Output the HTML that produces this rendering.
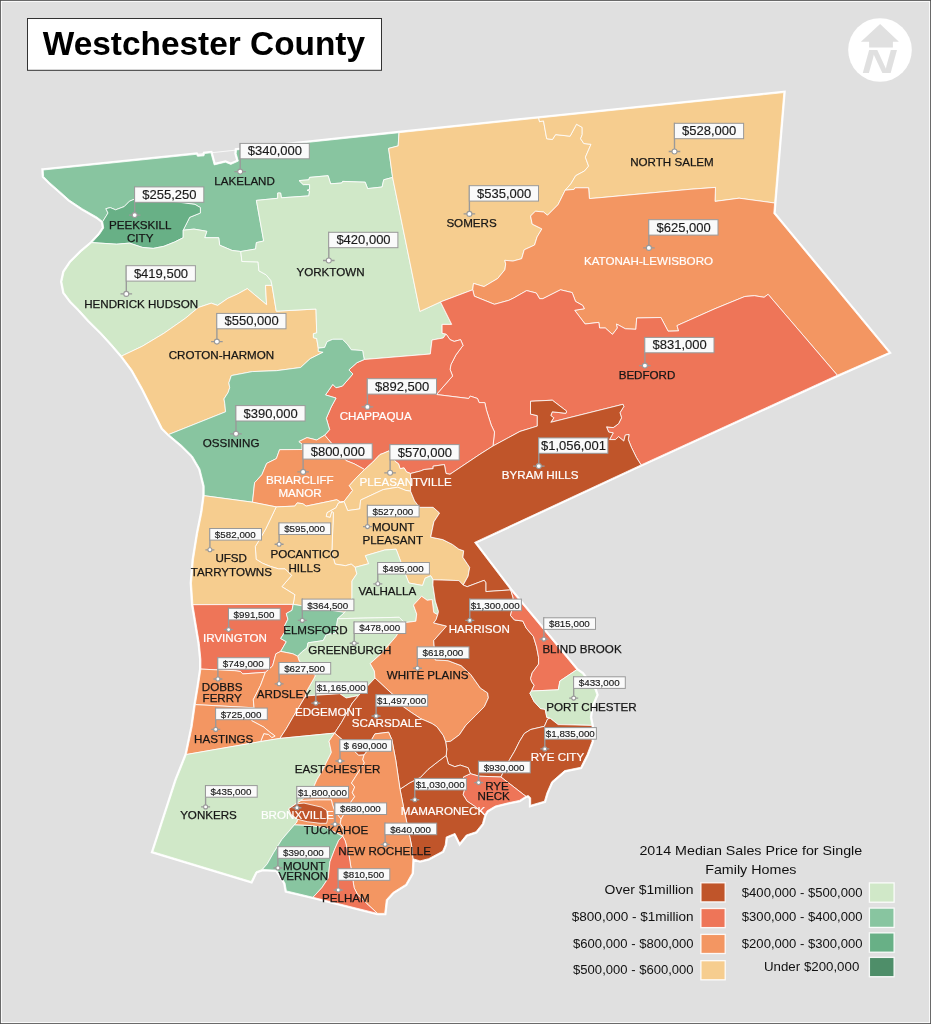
<!DOCTYPE html>
<html lang="en"><head><meta charset="utf-8"><title>Westchester County</title>
<style>html,body{margin:0;padding:0;background:#E0E0E0}body{width:931px;height:1024px;overflow:hidden}svg{display:block;will-change:transform}.nm{font-family:"Liberation Sans",Arial,sans-serif;font-size:11.6px;text-anchor:middle;fill:#161616;stroke:#161616;stroke-width:.25px}.nw{fill:#fff;stroke:#fff;stroke-width:.2px}.pl{font-family:"Liberation Sans",Arial,sans-serif;font-size:13px;text-anchor:middle;fill:#1a1a1a;stroke:#1a1a1a;stroke-width:.15px}.ps{font-family:"Liberation Sans",Arial,sans-serif;font-size:9.8px;text-anchor:middle;fill:#1a1a1a;stroke:#1a1a1a;stroke-width:.15px}.lg{font-family:"Liberation Sans",Arial,sans-serif;font-size:13.2px;fill:#111}.r{stroke:#fff;stroke-width:.8;stroke-linejoin:round}</style></head><body>
<svg width="931" height="1024" viewBox="0 0 931 1024">
<rect x="0" y="0" width="931" height="1024" fill="#E0E0E0"/>
<rect x="1.2" y="1.2" width="928.6" height="1021.6" fill="none" stroke="#fff" stroke-width="1.2"/>
<rect x="0.4" y="0.4" width="930.2" height="1023.2" fill="none" stroke="#4a4a4a" stroke-width=".8"/>
<rect x="27.5" y="18.5" width="354" height="51.8" fill="#fff" stroke="#333" stroke-width="1"/>
<text x="203.9" y="55.1" text-anchor="middle" font-family="Liberation Sans,Arial,sans-serif" font-weight="bold" font-size="33.4px" fill="#000">Westchester County</text>
<circle cx="880" cy="50" r="31.8" fill="#fff"/>
<polygon points="880.1,24.1 898.9,41.8 892.9,41.8 892.9,47.5 869.1,47.5 869.1,41.8 860.9,41.8" fill="#E0E0E0"/>
<text transform="translate(879,72.8) scale(1.56,1.09)" text-anchor="middle" font-family="Liberation Sans,Arial,sans-serif" font-weight="bold" font-style="italic" font-size="30.3px" fill="#E0E0E0">N</text>
<polygon points="43.2,170.0 196.4,154.3 197.5,156.3 204.0,155.8 204.5,153.5 210.9,152.8 214.2,164.9 225.4,162.2 230.8,164.4 238.3,161.1 236.2,153.6 236.5,149.9 399.0,132.7 538.7,118.0 783.8,92.6 774.6,203.0 773.8,213.5 888.9,352.6 837.3,375.2 641.1,464.9 474.5,542.4 510.7,589.9 576.8,669.7 582.4,673.7 587.3,680.2 595.2,690.0 596.8,694.8 591.9,706.1 590.3,717.4 592.0,725.4 592.0,741.6 587.1,754.4 580.7,767.3 564.6,770.6 551.7,781.8 546.8,793.1 544.4,801.2 530.7,805.2 530.7,797.9 528.3,795.5 525.9,796.3 519.4,800.4 508.2,802.8 495.3,806.0 487.2,810.8 484.8,814.9 482.4,823.7 475.9,831.8 466.3,835.0 459.8,843.1 455.0,833.4 446.2,837.0 445.2,845.0 442.6,851.2 428.6,858.7 420.0,860.9 412.9,858.7 412.1,873.2 405.7,884.4 392.8,892.5 386.3,899.7 384.7,913.4 377.5,913.4 313.0,897.3 286.4,890.9 285.0,883.1 276.9,870.2 262.4,869.4 256.0,871.8 251.2,881.5 152.9,851.7 176.2,780.0 186.4,754.5 192.1,727.1 195.3,704.6 198.5,685.2 200.9,669.1 200.9,659.4 199.3,643.3 195.3,619.2 192.9,604.7 191.5,583.1 193.4,560.0 197.7,533.3 202.0,511.9 204.2,495.7 204.2,486.1 199.9,468.9 192.4,456.0 181.6,445.3 168.7,434.5 162.3,428.1 153.7,410.9 143.0,389.4 132.2,370.1 121.7,356.0 112.3,345.1 101.6,333.3 88.7,320.4 79.0,309.7 70.4,301.1 64.0,292.5 61.9,281.7 64.0,272.1 70.4,262.4 81.2,251.7 91.9,242.6 99.4,234.5 103.7,228.0 102.7,221.6 97.3,217.3 82.3,208.7 69.4,200.1 58.6,190.4 50.0,182.9 43.6,176.5" fill="#E0E0E0" stroke="#fff" stroke-width="3.7" stroke-linejoin="miter" stroke-miterlimit="2.5"/>
<path d="M196 154.4L237 150" stroke="#fff" stroke-opacity=".8" stroke-width="1" fill="none"/>
<g class="r">
<polygon points="43.2,170.0 196.4,154.3 197.5,156.3 204.0,155.8 204.5,153.5 210.9,152.8 214.2,164.9 225.4,162.2 230.8,164.4 238.3,161.1 236.2,153.6 236.5,149.9 399.0,132.7 398.2,145.9 388.6,148.4 392.6,177.4 383.7,179.8 382.1,187.0 367.6,188.6 365.2,182.2 342.6,181.4 341.8,183.0 330.6,183.8 328.1,175.7 309.6,177.4 308.8,179.8 299.1,180.6 303.2,184.6 309.6,184.6 309.6,189.4 307.2,190.3 309.6,191.0 308.8,195.9 281.4,197.8 280.6,193.0 277.7,193.0 277.7,198.3 256.4,200.4 263.7,241.0 256.4,242.6 255.6,249.0 240.8,251.5 232.2,250.5 219.7,245.2 218.7,237.7 204.7,237.7 206.8,231.3 194.0,229.1 183.2,230.2 189.7,217.3 200.4,213.0 200.4,207.6 195.0,204.4 165.0,200.3 134.9,199.0 129.5,201.2 124.2,206.6 115.6,209.8 110.2,207.6 105.9,208.7 108.0,213.0 102.7,221.6 97.3,217.3 82.3,208.7 69.4,200.1 58.6,190.4 50.0,182.9 43.6,176.5" fill="#88C5A0"/>
<polygon points="102.7,221.6 108.0,213.0 105.9,208.7 110.2,207.6 115.6,209.8 124.2,206.6 129.5,201.2 134.9,199.0 165.0,200.3 195.0,204.4 200.4,207.6 200.4,213.0 189.7,217.3 183.2,230.2 183.2,237.7 174.6,242.0 163.9,246.3 153.2,248.4 142.4,247.4 129.5,243.1 116.6,244.2 91.9,242.6 99.4,234.5 103.7,228.0" fill="#68B086"/>
<polygon points="91.9,242.6 116.6,244.2 129.5,243.1 142.4,247.4 153.2,248.4 163.9,246.3 174.6,242.0 183.2,237.7 183.2,230.2 194.0,229.1 206.8,231.3 204.7,237.7 218.7,237.7 219.7,245.2 232.2,250.5 240.8,251.5 241.9,261.5 258.1,261.9 258.9,270.8 266.1,274.8 270.9,280.5 272.0,285.4 265.5,285.4 266.6,304.7 247.3,288.6 237.6,294.0 227.9,298.3 217.6,305.4 211.2,303.2 198.3,307.5 185.4,318.3 163.9,333.3 142.4,346.2 121.7,356.0 112.3,345.1 101.6,333.3 88.7,320.4 79.0,309.7 70.4,301.1 64.0,292.5 61.9,281.7 64.0,272.1 70.4,262.4 81.2,251.7" fill="#D0E8C8"/>
<polygon points="121.7,356.0 142.4,346.2 163.9,333.3 185.4,318.3 198.3,307.5 211.2,303.2 217.6,305.4 227.9,298.3 237.6,294.0 247.3,288.6 266.6,304.7 265.5,285.4 272.0,285.4 276.3,311.2 316.0,309.0 316.7,332.9 313.4,333.7 313.4,337.7 316.7,338.5 318.3,348.2 318.3,351.4 323.1,352.2 310.2,358.7 300.6,367.5 276.4,370.7 252.2,371.6 231.3,375.6 228.9,382.8 229.7,387.7 228.1,392.5 224.0,398.9 224.8,403.8 225.6,411.8 168.7,434.5 162.3,428.1 153.7,410.9 143.0,389.4 132.2,370.1" fill="#F6CD8F"/>
<polygon points="240.8,251.5 255.6,249.0 256.4,242.6 263.7,241.0 256.4,200.4 277.7,198.3 277.7,193.0 280.6,193.0 281.4,197.8 308.8,195.9 309.6,191.0 307.2,190.3 309.6,189.4 309.6,184.6 303.2,184.6 299.1,180.6 308.8,179.8 309.6,177.4 328.1,175.7 330.6,183.8 341.8,183.0 342.6,181.4 365.2,182.2 367.6,188.6 382.1,187.0 383.7,179.8 392.6,177.4 419.9,311.4 440.5,301.9 451.7,324.4 442.1,324.4 442.1,333.3 446.1,334.1 443.2,338.0 432.0,340.0 430.3,354.0 364.2,359.5 362.6,350.6 351.3,349.8 347.3,344.2 342.4,339.3 332.8,339.3 327.1,341.7 324.7,347.4 318.3,348.2 316.7,338.5 313.4,337.7 313.4,333.7 316.7,332.9 316.0,309.0 276.3,311.2 272.0,285.4 270.9,280.5 266.1,274.8 258.9,270.8 258.1,261.9 241.9,261.5" fill="#D0E8C8"/>
<polygon points="399.0,132.7 538.7,118.0 539.5,121.7 543.5,120.9 546.7,138.7 552.4,139.5 555.6,134.6 570.1,136.2 576.5,124.2 582.2,127.4 582.2,134.6 580.6,138.7 583.8,143.5 591.0,144.3 585.4,157.2 588.6,166.1 584.6,170.9 575.7,175.7 570.9,183.8 565.2,190.2 562.0,196.7 558.0,204.7 547.5,215.2 543.5,212.0 535.4,211.2 530.6,216.0 532.2,224.1 541.9,228.9 537.1,236.9 534.6,245.0 524.2,249.8 521.7,258.7 512.9,261.1 504.8,260.3 505.7,264.0 504.9,269.7 497.7,278.5 484.0,286.6 473.5,283.4 472.7,289.8 440.5,301.9 419.9,311.4 392.6,177.4 388.6,148.4 398.2,145.9" fill="#F6CD8F"/>
<polygon points="538.7,118.0 783.8,92.6 774.6,203.0 739.1,198.2 715.0,201.4 715.5,187.4 690.0,189.3 600.0,197.7 589.4,198.6 588.6,187.8 574.9,187.8 574.1,189.4 565.2,190.2 570.9,183.8 575.7,175.7 584.6,170.9 588.6,166.1 585.4,157.2 591.0,144.3 583.8,143.5 580.6,138.7 582.2,134.6 582.2,127.4 576.5,124.2 570.1,136.2 555.6,134.6 552.4,139.5 546.7,138.7 543.5,120.9 539.5,121.7" fill="#F6CD8F"/>
<polygon points="472.7,289.8 473.5,283.4 484.0,286.6 497.7,278.5 504.9,269.7 505.7,264.0 504.8,260.3 512.9,261.1 521.7,258.7 524.2,249.8 534.6,245.0 537.1,236.9 541.9,228.9 532.2,224.1 530.6,216.0 535.4,211.2 543.5,212.0 547.5,215.2 558.0,204.7 562.0,196.7 565.2,190.2 574.1,189.4 574.9,187.8 588.6,187.8 589.4,198.6 600.0,197.7 690.0,189.3 715.5,187.4 715.0,201.4 739.1,198.2 774.6,203.0 773.8,213.5 888.9,352.6 837.3,375.2 768.1,294.3 764.1,297.3 754.4,295.7 744.8,296.5 715.0,308.7 677.0,325.6 678.6,330.9 668.1,331.2 660.9,317.5 636.7,318.0 635.9,329.3 625.4,328.8 616.6,324.0 617.4,328.0 612.5,334.4 605.3,328.0 599.6,328.0 598.8,322.4 585.1,324.0 574.7,310.3 584.3,308.7 582.7,305.4 575.5,301.4 572.2,292.6 560.5,289.8 542.8,298.7 539.6,298.7 536.3,293.0 526.7,290.6 513.8,297.9 508.9,300.3 494.4,304.3 474.3,296.2" fill="#F39662"/>
<polygon points="440.5,301.9 472.7,289.8 474.3,296.2 494.4,304.3 508.9,300.3 513.8,297.9 526.7,290.6 536.3,293.0 539.6,298.7 542.8,298.7 560.5,289.8 572.2,292.6 575.5,301.4 582.7,305.4 584.3,308.7 574.7,310.3 585.1,324.0 598.8,322.4 599.6,328.0 605.3,328.0 612.5,334.4 617.4,328.0 616.6,324.0 625.4,328.8 635.9,329.3 636.7,318.0 660.9,317.5 668.1,331.2 678.6,330.9 677.0,325.6 715.0,308.7 744.8,296.5 754.4,295.7 764.1,297.3 768.1,294.3 837.3,375.2 641.1,464.9 636.5,457.7 631.3,447.1 628.3,439.6 629.0,434.4 625.3,435.1 623.8,441.1 618.5,436.6 615.5,439.6 609.5,439.6 613.2,432.9 608.7,432.1 606.5,426.8 613.2,427.6 618.5,423.8 621.5,417.8 620.0,412.6 623.8,406.5 623.0,404.3 550.8,422.3 553.8,417.8 550.8,415.6 552.3,411.8 565.9,413.3 566.6,411.1 552.3,400.2 530.5,401.3 530.5,414.1 537.3,415.6 537.3,426.1 520.0,431.4 493.0,446.0 494.5,432.0 491.2,425.0 486.4,409.8 484.8,402.6 479.1,402.6 477.5,398.5 470.3,396.1 468.7,398.5 436.4,394.5 452.6,376.0 450.1,369.5 450.9,364.7 455.8,355.1 463.0,345.4 460.6,339.7 454.2,341.4 450.1,339.7 446.1,334.1 442.1,333.3 442.1,324.4 451.7,324.4" fill="#EE7558"/>
<polygon points="364.2,359.5 430.3,354.0 432.0,340.0 443.2,338.0 446.1,334.1 450.1,339.7 454.2,341.4 460.6,339.7 463.0,345.4 455.8,355.1 450.9,364.7 450.1,369.5 452.6,376.0 436.4,394.5 468.7,398.5 470.3,396.1 477.5,398.5 479.1,402.6 484.8,402.6 486.4,409.8 491.2,425.0 494.5,432.0 493.0,446.0 480.0,454.2 450.0,474.3 446.0,473.5 444.4,464.6 433.1,466.2 433.1,468.7 424.2,469.5 420.2,471.1 410.6,473.5 406.5,471.9 404.1,467.9 400.1,468.7 398.5,463.8 395.2,461.4 388.8,450.9 383.2,453.4 380.0,454.5 372.7,462.2 364.6,469.5 354.2,463.8 346.1,460.6 324.7,435.2 329.6,429.6 326.3,418.3 331.2,407.0 336.0,398.1 325.5,394.9 332.8,384.4 336.0,387.7 342.4,386.1 352.9,374.0 348.9,369.9 356.9,362.7" fill="#EE7558"/>
<polygon points="168.7,434.5 225.6,411.8 224.8,403.8 224.0,398.9 228.1,392.5 229.7,387.7 228.9,382.8 231.3,375.6 252.2,371.6 276.4,370.7 300.6,367.5 310.2,358.7 323.1,352.2 318.3,351.4 318.3,348.2 324.7,347.4 327.1,341.7 332.8,339.3 342.4,339.3 347.3,344.2 351.3,349.8 362.6,350.6 364.2,359.5 356.9,362.7 348.9,369.9 352.9,374.0 342.4,386.1 336.0,387.7 332.8,384.4 325.5,394.9 336.0,398.1 331.2,407.0 326.3,418.3 329.6,429.6 324.7,435.2 316.7,440.0 307.0,437.6 298.9,441.6 302.2,444.0 302.2,449.5 279.6,449.7 276.4,458.6 266.7,463.4 261.9,474.7 254.6,482.7 252.5,502.2 204.2,495.7 204.2,486.1 199.9,468.9 192.4,456.0 181.6,445.3" fill="#88C5A0"/>
<polygon points="324.7,435.2 346.1,460.6 354.2,463.8 364.6,469.5 355.8,478.3 349.3,485.6 352.6,490.4 344.0,501.5 340.7,502.1 336.7,499.7 329.4,501.3 306.1,506.1 302.8,503.7 297.2,502.9 294.8,506.1 276.2,506.9 252.5,502.2 254.6,482.7 261.9,474.7 266.7,463.4 276.4,458.6 279.6,449.7 302.2,449.5 302.2,444.0 298.9,441.6 307.0,437.6 316.7,440.0" fill="#F39662"/>
<polygon points="364.6,469.5 372.7,462.2 380.0,454.5 383.2,453.4 388.8,450.9 395.2,461.4 398.5,463.8 400.1,468.7 404.1,467.9 406.5,471.9 410.6,473.5 410.6,491.2 405.7,490.4 397.7,487.2 383.2,489.6 360.6,500.1 359.8,508.9 347.7,510.6 344.0,501.5 352.6,490.4 349.3,485.6 355.8,478.3" fill="#F6CD8F"/>
<polygon points="344.0,501.5 347.7,510.6 359.8,508.9 360.6,500.1 383.2,489.6 397.7,487.2 405.7,490.4 410.6,491.2 414.6,500.9 419.4,507.3 433.1,507.3 439.6,513.0 433.9,521.8 430.7,537.1 442.8,539.6 452.4,544.4 458.9,549.2 463.7,550.8 462.9,557.3 469.7,567.4 468.1,576.2 463.2,585.1 458.9,580.6 433.1,579.8 430.7,575.8 425.1,578.2 422.6,585.5 408.9,583.0 405.7,575.0 396.1,549.2 384.8,550.0 365.4,555.7 368.7,563.7 355.2,567.3 351.2,564.1 345.5,565.7 335.1,564.1 331.8,552.8 333.4,512.6 331.8,511.7 330.2,517.4 326.2,516.6 327.0,512.6 335.9,507.7 338.3,502.9" fill="#F6CD8F"/>
<polygon points="410.6,473.5 420.2,471.1 424.2,469.5 433.1,468.7 433.1,466.2 444.4,464.6 446.0,473.5 450.0,474.3 480.0,454.2 493.0,446.0 520.0,431.4 537.3,426.1 537.3,415.6 530.5,414.1 530.5,401.3 552.3,400.2 566.6,411.1 565.9,413.3 552.3,411.8 550.8,415.6 553.8,417.8 550.8,422.3 623.0,404.3 623.8,406.5 620.0,412.6 621.5,417.8 618.5,423.8 613.2,427.6 606.5,426.8 608.7,432.1 613.2,432.9 609.5,439.6 615.5,439.6 618.5,436.6 623.8,441.1 625.3,435.1 629.0,434.4 628.3,439.6 631.3,447.1 636.5,457.7 641.1,464.9 474.5,542.4 510.7,589.9 485.8,591.6 485.8,582.7 484.2,580.3 467.2,586.7 463.2,585.1 468.1,576.2 469.7,567.4 462.9,557.3 463.7,550.8 458.9,549.2 452.4,544.4 442.8,539.6 430.7,537.1 433.9,521.8 439.6,513.0 433.1,507.3 419.4,507.3 414.6,500.9 410.6,491.2" fill="#C0552A"/>
<polygon points="276.2,506.9 294.8,506.1 297.2,502.9 302.8,503.7 306.1,506.1 329.4,501.3 336.7,499.7 340.7,502.1 344.0,501.5 338.3,502.9 335.9,507.7 327.0,512.6 326.2,516.6 330.2,517.4 331.8,511.7 333.4,512.6 331.8,552.8 335.1,564.1 345.5,565.7 351.2,564.1 355.2,567.3 356.8,573.8 352.0,581.0 352.0,597.9 344.7,612.4 293.2,604.4 294.8,594.7 281.9,586.7 291.6,575.4 285.1,568.9 278.7,568.9 270.6,566.5 262.6,563.3 256.1,559.3 255.3,546.4 259.3,539.9 265.8,528.7" fill="#F6CD8F"/>
<polygon points="204.2,495.7 252.5,502.2 276.2,506.9 265.8,528.7 259.3,539.9 255.3,546.4 256.1,559.3 262.6,563.3 270.6,566.5 278.7,568.9 285.1,568.9 291.6,575.4 281.9,586.7 294.8,594.7 293.2,604.4 192.9,604.7 191.5,583.1 193.4,560.0 197.7,533.3 202.0,511.9" fill="#F6CD8F"/>
<polygon points="192.9,604.7 293.2,604.4 292.0,610.3 286.3,613.5 287.9,619.2 284.7,625.6 286.3,629.6 280.7,638.5 286.3,641.7 280.7,651.4 275.9,653.8 272.6,665.9 265.4,672.3 242.8,673.9 240.4,671.5 234.8,670.7 200.9,669.1 200.9,659.4 199.3,643.3 195.3,619.2" fill="#EE7558"/>
<polygon points="293.2,604.4 344.7,612.4 337.7,618.7 335.5,633.2 326.4,634.5 323.2,640.6 308.0,642.8 307.0,648.0 302.4,651.4 297.6,656.2 292.8,653.8 280.7,651.4 286.3,641.7 280.7,638.5 286.3,629.6 284.7,625.6 287.9,619.2 286.3,613.5 292.0,610.3" fill="#88C5A0"/>
<polygon points="355.2,567.3 368.7,563.7 365.4,555.7 384.8,550.0 396.1,549.2 405.7,575.0 408.9,583.0 422.6,585.5 425.1,578.2 430.7,575.8 433.1,579.8 432.9,585.0 435.3,601.1 438.5,611.6 437.7,614.8 433.7,612.4 432.1,599.5 427.2,600.3 421.6,596.3 413.5,605.1 416.7,614.0 415.9,621.2 404.5,622.7 399.2,617.3 337.7,618.7 344.7,612.4 352.0,597.9 352.0,581.0 356.8,573.8" fill="#D0E8C8"/>
<polygon points="337.7,618.7 399.2,617.3 404.5,622.7 395.9,636.7 380.9,653.9 370.2,663.5 374.4,671.0 375.0,678.0 358.7,695.4 356.9,695.9 346.2,698.0 339.7,693.7 308.9,695.7 305.0,697.0 307.3,690.0 313.7,678.8 315.3,675.6 299.2,661.1 297.6,656.2 302.4,651.4 307.0,648.0 308.0,642.8 323.2,640.6 326.4,634.5 335.5,633.2" fill="#D0E8C8"/>
<polygon points="404.5,622.7 415.9,621.2 416.7,614.0 413.5,605.1 421.6,596.3 427.2,600.3 432.1,599.5 433.7,612.4 437.7,614.8 436.1,619.6 433.7,622.9 446.6,626.1 433.7,640.6 435.3,659.9 448.2,660.7 461.1,665.6 470.7,674.4 480.4,688.1 487.6,692.9 488.4,697.8 484.4,706.6 475.6,715.5 465.9,725.2 459.4,734.8 450.6,741.3 445.6,741.8 443.3,735.6 436.9,726.8 432.1,723.6 420.8,718.7 411.1,712.3 403.1,706.6 397.4,698.7 385.6,687.9 375.0,678.0 374.4,671.0 370.2,663.5 380.9,653.9 395.9,636.7" fill="#F39662"/>
<polygon points="433.1,579.8 458.9,580.6 463.2,585.1 467.2,586.7 484.2,580.3 485.8,582.7 485.8,591.6 510.7,589.9 513.2,598.0 511.6,610.9 510.5,615.5 514.5,620.0 522.8,621.0 526.2,628.0 533.4,636.5 536.6,647.0 538.6,657.5 538.6,664.1 532.2,672.8 530.6,678.5 531.7,681.8 534.2,685.3 531.5,691.0 529.9,693.2 533.9,701.3 540.4,708.5 545.2,709.3 546.8,717.4 550.1,718.2 547.6,719.0 544.4,726.3 530.7,729.5 524.3,733.5 519.4,741.6 514.6,751.2 509.8,759.3 500.9,777.0 479.2,776.2 470.4,773.7 468.2,767.8 460.2,765.1 454.8,766.7 448.4,764.0 446.2,755.4 446.8,749.0 445.6,741.8 450.6,741.3 459.4,734.8 465.9,725.2 475.6,715.5 484.4,706.6 488.4,697.8 487.6,692.9 480.4,688.1 470.7,674.4 461.1,665.6 448.2,660.7 435.3,659.9 433.7,640.6 446.6,626.1 433.7,622.9 436.1,619.6 437.7,614.8 438.5,611.6 435.3,601.1 432.9,585.0" fill="#C0552A"/>
<polygon points="510.7,589.9 576.8,669.7 559.9,681.0 558.3,689.8 531.5,691.0 534.2,685.3 531.7,681.8 530.6,678.5 532.2,672.8 538.6,664.1 538.6,657.5 536.6,647.0 533.4,636.5 526.2,628.0 522.8,621.0 514.5,620.0 510.5,615.5 511.6,610.9 513.2,598.0" fill="#EE7558"/>
<polygon points="576.8,669.7 582.4,673.7 587.3,680.2 595.2,690.0 596.8,694.8 591.9,706.1 590.3,717.4 592.0,725.4 558.1,724.6 550.1,718.2 546.8,717.4 545.2,709.3 540.4,708.5 533.9,701.3 529.9,693.2 531.5,691.0 558.3,689.8 559.9,681.0" fill="#D0E8C8"/>
<polygon points="550.1,718.2 558.1,724.6 592.0,725.4 592.0,741.6 587.1,754.4 580.7,767.3 564.6,770.6 551.7,781.8 546.8,793.1 544.4,801.2 530.7,805.2 530.7,797.9 528.3,795.5 525.9,796.3 500.9,777.0 509.8,759.3 514.6,751.2 519.4,741.6 524.3,733.5 530.7,729.5 544.4,726.3 547.6,719.0" fill="#C0552A"/>
<polygon points="500.9,777.0 525.9,796.3 519.4,800.4 508.2,802.8 495.3,806.0 487.2,810.8 484.8,814.9 474.2,805.9 467.1,801.2 463.1,794.7 465.5,785.1 463.4,776.9 470.4,773.7 479.2,776.2" fill="#EE7558"/>
<polygon points="400.0,789.2 409.7,782.8 420.4,777.4 428.0,769.4 437.6,761.9 446.2,755.4 448.4,764.0 454.8,766.7 460.2,765.1 468.2,767.8 470.4,773.7 463.4,776.9 465.5,785.1 463.1,794.7 467.1,801.2 474.2,805.9 484.8,814.9 482.4,823.7 475.9,831.8 466.3,835.0 459.8,843.1 455.0,833.4 446.2,837.0 445.2,845.0 442.6,851.2 428.6,858.7 420.0,860.9 412.9,858.7 411.9,847.4 408.7,831.3 403.9,808.8" fill="#C0552A"/>
<polygon points="200.9,669.1 234.8,670.7 240.4,671.5 242.8,673.9 265.4,672.3 260.6,685.2 253.3,699.7 254.1,707.8 195.3,704.6 198.5,685.2" fill="#F39662"/>
<polygon points="280.7,651.4 292.8,653.8 297.6,656.2 299.2,661.1 315.3,675.6 313.7,678.8 307.3,690.0 305.0,697.0 292.8,717.4 286.3,728.7 279.9,738.4 260.6,741.6 263.8,733.6 268.6,734.4 271.8,737.6 275.1,736.0 269.4,731.9 263.8,727.1 251.7,720.7 254.1,707.8 253.3,699.7 260.6,685.2 265.4,672.3 272.6,665.9 275.9,653.8" fill="#F39662"/>
<polygon points="195.3,704.6 254.1,707.8 251.7,720.7 263.8,727.1 269.4,731.9 275.1,736.0 271.8,737.6 268.6,734.4 263.8,733.6 260.6,741.6 186.4,754.5 192.1,727.1" fill="#F39662"/>
<polygon points="305.0,697.0 308.9,695.7 339.7,693.7 346.2,698.0 356.9,695.9 358.7,695.4 352.3,703.0 341.6,722.3 334.6,733.1 279.9,738.4 286.3,728.7 292.8,717.4" fill="#C0552A"/>
<polygon points="375.0,678.0 385.6,687.9 397.4,698.7 403.1,706.6 411.1,712.3 420.8,718.7 432.1,723.6 436.9,726.8 443.3,735.6 445.6,741.8 446.8,749.0 446.2,755.4 437.6,761.9 428.0,769.4 420.4,777.4 409.7,782.8 400.0,789.2 395.8,760.4 391.8,739.5 388.6,732.2 374.9,733.9 371.7,739.5 368.0,750.0 364.0,755.0 358.5,755.3 355.5,752.2 345.0,742.0 334.6,733.1 341.6,722.3 352.3,703.0 358.7,695.4" fill="#C0552A"/>
<polygon points="186.4,754.5 260.6,741.6 279.9,738.4 334.6,733.1 329.0,741.1 331.4,752.4 326.6,762.1 321.7,771.7 316.9,779.8 313.7,787.0 306.0,796.0 301.0,800.5 295.9,803.9 288.7,808.8 291.1,814.4 297.6,819.3 297.0,822.0 294.3,824.9 290.0,830.0 281.8,839.6 273.7,852.5 267.3,863.8 262.4,869.4 256.0,871.8 251.2,881.5 152.9,851.7 176.2,780.0" fill="#D0E8C8"/>
<polygon points="334.6,733.1 345.0,742.0 355.5,752.2 358.5,755.3 364.0,755.0 362.8,759.6 364.4,762.9 355.6,776.6 351.5,783.0 354.7,787.0 352.3,792.7 354.7,796.7 350.7,802.3 345.1,812.0 341.1,819.2 337.0,814.0 333.8,808.8 332.2,803.9 331.4,799.9 315.3,799.9 301.0,800.5 306.0,796.0 313.7,787.0 316.9,779.8 321.7,771.7 326.6,762.1 331.4,752.4 329.0,741.1" fill="#F39662"/>
<polygon points="301.0,800.5 315.3,799.9 331.4,799.9 332.2,803.9 333.8,808.8 337.0,814.0 341.1,819.2 340.2,823.3 344.3,829.7 342.7,836.2 339.4,834.6 326.6,828.1 310.0,825.5 294.3,824.9 297.0,822.0 297.6,819.3 291.1,814.4 288.7,808.8 295.9,803.9" fill="#F39662"/>
<polygon points="295.9,803.9 304.0,803.1 321.7,807.2 326.6,810.4 328.2,816.8 326.6,823.3 320.1,823.3 307.2,821.7 297.6,819.3 291.1,814.4 288.7,808.8" fill="#C0552A"/>
<polygon points="364.0,755.0 368.0,750.0 371.7,739.5 374.9,733.9 388.6,732.2 391.8,739.5 395.8,760.4 400.0,789.2 403.9,808.8 408.7,831.3 411.9,847.4 412.9,858.7 412.1,873.2 405.7,884.4 392.8,892.5 386.3,899.7 384.7,913.4 377.5,913.4 367.0,903.8 357.3,894.1 354.1,887.7 349.3,857.1 345.2,840.9 342.7,836.2 344.3,829.7 340.2,823.3 341.1,819.2 345.1,812.0 350.7,802.3 354.7,796.7 352.3,792.7 354.7,787.0 351.5,783.0 355.6,776.6 364.4,762.9 362.8,759.6" fill="#F39662"/>
<polygon points="294.3,824.9 310.0,825.5 326.6,828.1 339.4,834.6 342.7,836.2 338.8,840.1 334.8,849.0 329.9,861.9 328.3,878.0 321.9,887.7 313.0,897.3 286.4,890.9 285.0,883.1 276.9,870.2 262.4,869.4 267.3,863.8 273.7,852.5 281.8,839.6 290.0,830.0" fill="#88C5A0"/>
<polygon points="342.7,836.2 345.2,840.9 349.3,857.1 354.1,887.7 357.3,894.1 367.0,903.8 377.5,913.4 313.0,897.3 321.9,887.7 328.3,878.0 329.9,861.9 334.8,849.0 338.8,840.1" fill="#EE7558"/>
</g>
<g>
<text class="nm" x="244.6" y="184.8">LAKELAND</text>
<text class="nm" x="140.2" y="228.9">PEEKSKILL</text>
<text class="nm" x="140.2" y="242.4">CITY</text>
<text class="nm" x="141.2" y="307.9">HENDRICK HUDSON</text>
<text class="nm" x="221.4" y="358.8">CROTON-HARMON</text>
<text class="nm" x="231.1" y="447.4">OSSINING</text>
<text class="nm" x="330.5" y="275.7">YORKTOWN</text>
<text class="nm" x="471.5" y="227.2">SOMERS</text>
<text class="nm" x="672.0" y="165.6">NORTH SALEM</text>
<text class="nm nw" x="648.5" y="265.1">KATONAH-LEWISBORO</text>
<text class="nm" x="647.0" y="378.7">BEDFORD</text>
<text class="nm nw" x="375.7" y="419.9">CHAPPAQUA</text>
<text class="nm nw" x="299.8" y="483.5">BRIARCLIFF</text>
<text class="nm nw" x="300.0" y="496.8">MANOR</text>
<text class="nm nw" x="405.6" y="485.6">PLEASANTVILLE</text>
<text class="nm" x="393.2" y="531.2">MOUNT</text>
<text class="nm" x="392.7" y="544.1">PLEASANT</text>
<text class="nm nw" x="540.2" y="479.2">BYRAM HILLS</text>
<text class="nm" x="231.2" y="562.1">UFSD</text>
<text class="nm" x="231.4" y="575.6">TARRYTOWNS</text>
<text class="nm" x="304.9" y="558.4">POCANTICO</text>
<text class="nm" x="304.6" y="571.7">HILLS</text>
<text class="nm" x="387.3" y="595.4">VALHALLA</text>
<text class="nm" x="315.4" y="633.6">ELMSFORD</text>
<text class="nm" x="349.8" y="653.7">GREENBURGH</text>
<text class="nm nw" x="235.0" y="641.5">IRVINGTON</text>
<text class="nm" x="222.1" y="690.5">DOBBS</text>
<text class="nm" x="222.1" y="702.3">FERRY</text>
<text class="nm" x="283.9" y="698.4">ARDSLEY</text>
<text class="nm" x="223.7" y="742.7">HASTINGS</text>
<text class="nm nw" x="328.5" y="715.6">EDGEMONT</text>
<text class="nm nw" x="386.9" y="726.6">SCARSDALE</text>
<text class="nm" x="427.7" y="679.3">WHITE PLAINS</text>
<text class="nm nw" x="479.3" y="632.9">HARRISON</text>
<text class="nm" x="582.0" y="653.1">BLIND BROOK</text>
<text class="nm" x="591.5" y="711.0">PORT CHESTER</text>
<text class="nm nw" x="557.5" y="760.9">RYE CITY</text>
<text class="nm" x="497.0" y="790.0">RYE</text>
<text class="nm" x="493.7" y="800.1">NECK</text>
<text class="nm nw" x="443.0" y="815.1">MAMARONECK</text>
<text class="nm" x="337.5" y="772.6">EASTCHESTER</text>
<text class="nm" x="208.5" y="818.7">YONKERS</text>
<text class="nm nw" x="297.3" y="819.0">BRONXVILLE</text>
<text class="nm" x="336.0" y="834.0">TUCKAHOE</text>
<text class="nm" x="384.6" y="855.3">NEW ROCHELLE</text>
<text class="nm" x="304.2" y="870.3">MOUNT</text>
<text class="nm" x="303.4" y="880.0">VERNON</text>
<text class="nm" x="345.9" y="902.1">PELHAM</text>
</g>
<g>
<path d="M240.2 142.9V171.6M234.4 171.6H246.0" stroke="#999" stroke-width="1.35" fill="none"/>
<circle cx="240.2" cy="171.6" r="2.5" fill="#fff" stroke="#999" stroke-width="1.1"/>
<rect x="240.1" y="143.4" width="69.2" height="15.4" fill="#fafafa" stroke="#999" stroke-width="1"/>
<text class="pl" x="274.9" y="155.4">$340,000</text>
<path d="M134.7 186.4V215.1M128.9 215.1H140.5" stroke="#999" stroke-width="1.35" fill="none"/>
<circle cx="134.7" cy="215.1" r="2.5" fill="#fff" stroke="#999" stroke-width="1.1"/>
<rect x="134.6" y="186.9" width="69.2" height="15.4" fill="#fafafa" stroke="#999" stroke-width="1"/>
<text class="pl" x="169.4" y="198.9">$255,250</text>
<path d="M126.3 265.2V293.9M120.5 293.9H132.1" stroke="#999" stroke-width="1.35" fill="none"/>
<circle cx="126.3" cy="293.9" r="2.5" fill="#fff" stroke="#999" stroke-width="1.1"/>
<rect x="126.2" y="265.7" width="69.2" height="15.4" fill="#fafafa" stroke="#999" stroke-width="1"/>
<text class="pl" x="161.0" y="277.7">$419,500</text>
<path d="M216.9 312.9V341.6M211.1 341.6H222.7" stroke="#999" stroke-width="1.35" fill="none"/>
<circle cx="216.9" cy="341.6" r="2.5" fill="#fff" stroke="#999" stroke-width="1.1"/>
<rect x="216.8" y="313.4" width="69.2" height="15.4" fill="#fafafa" stroke="#999" stroke-width="1"/>
<text class="pl" x="251.6" y="325.4">$550,000</text>
<path d="M236.0 405.1V433.8M230.2 433.8H241.8" stroke="#999" stroke-width="1.35" fill="none"/>
<circle cx="236.0" cy="433.8" r="2.5" fill="#fff" stroke="#999" stroke-width="1.1"/>
<rect x="235.9" y="405.6" width="69.2" height="15.4" fill="#fafafa" stroke="#999" stroke-width="1"/>
<text class="pl" x="270.7" y="417.6">$390,000</text>
<path d="M328.8 231.8V260.5M323.0 260.5H334.6" stroke="#999" stroke-width="1.35" fill="none"/>
<circle cx="328.8" cy="260.5" r="2.5" fill="#fff" stroke="#999" stroke-width="1.1"/>
<rect x="328.7" y="232.3" width="69.2" height="15.4" fill="#fafafa" stroke="#999" stroke-width="1"/>
<text class="pl" x="363.5" y="244.3">$420,000</text>
<path d="M469.4 185.2V213.9M463.6 213.9H475.2" stroke="#999" stroke-width="1.35" fill="none"/>
<circle cx="469.4" cy="213.9" r="2.5" fill="#fff" stroke="#999" stroke-width="1.1"/>
<rect x="469.3" y="185.7" width="69.2" height="15.4" fill="#fafafa" stroke="#999" stroke-width="1"/>
<text class="pl" x="504.1" y="197.7">$535,000</text>
<path d="M367.4 378.2V406.9M361.6 406.9H373.2" stroke="#999" stroke-width="1.35" fill="none"/>
<circle cx="367.4" cy="406.9" r="2.5" fill="#fff" stroke="#999" stroke-width="1.1"/>
<rect x="367.3" y="378.7" width="69.2" height="15.4" fill="#fafafa" stroke="#999" stroke-width="1"/>
<text class="pl" x="402.1" y="390.7">$892,500</text>
<path d="M674.5 122.8V151.5M668.7 151.5H680.3" stroke="#999" stroke-width="1.35" fill="none"/>
<circle cx="674.5" cy="151.5" r="2.5" fill="#fff" stroke="#999" stroke-width="1.1"/>
<rect x="674.4" y="123.3" width="69.2" height="15.4" fill="#fafafa" stroke="#999" stroke-width="1"/>
<text class="pl" x="709.2" y="135.3">$528,000</text>
<path d="M648.9 219.2V247.9M643.1 247.9H654.7" stroke="#999" stroke-width="1.35" fill="none"/>
<circle cx="648.9" cy="247.9" r="2.5" fill="#fff" stroke="#999" stroke-width="1.1"/>
<rect x="648.8" y="219.7" width="69.2" height="15.4" fill="#fafafa" stroke="#999" stroke-width="1"/>
<text class="pl" x="683.6" y="231.7">$625,000</text>
<path d="M644.9 336.9V365.6M639.1 365.6H650.7" stroke="#999" stroke-width="1.35" fill="none"/>
<circle cx="644.9" cy="365.6" r="2.5" fill="#fff" stroke="#999" stroke-width="1.1"/>
<rect x="644.8" y="337.4" width="69.2" height="15.4" fill="#fafafa" stroke="#999" stroke-width="1"/>
<text class="pl" x="679.6" y="349.4">$831,000</text>
<path d="M303.1 443.2V471.9M297.3 471.9H308.9" stroke="#999" stroke-width="1.35" fill="none"/>
<circle cx="303.1" cy="471.9" r="2.5" fill="#fff" stroke="#999" stroke-width="1.1"/>
<rect x="303.0" y="443.7" width="69.2" height="15.4" fill="#fafafa" stroke="#999" stroke-width="1"/>
<text class="pl" x="337.8" y="455.7">$800,000</text>
<path d="M390.1 444.1V472.8M384.3 472.8H395.9" stroke="#999" stroke-width="1.35" fill="none"/>
<circle cx="390.1" cy="472.8" r="2.5" fill="#fff" stroke="#999" stroke-width="1.1"/>
<rect x="390.0" y="444.6" width="69.2" height="15.4" fill="#fafafa" stroke="#999" stroke-width="1"/>
<text class="pl" x="424.8" y="456.6">$570,000</text>
<path d="M538.8 437.4V466.1M533.0 466.1H544.6" stroke="#999" stroke-width="1.35" fill="none"/>
<circle cx="538.8" cy="466.1" r="2.5" fill="#fff" stroke="#999" stroke-width="1.1"/>
<rect x="538.7" y="437.9" width="69.2" height="15.4" fill="#fafafa" stroke="#999" stroke-width="1"/>
<text class="pl" x="573.5" y="449.9">$1,056,001</text>
<path d="M367.5 504.8V526.6M363.0 526.6H372.0" stroke="#999" stroke-width="1.35" fill="none"/>
<circle cx="367.5" cy="526.6" r="2.0" fill="#fff" stroke="#999" stroke-width="1.1"/>
<rect x="367.4" y="505.3" width="51.7" height="11.6" fill="#fafafa" stroke="#999" stroke-width="1"/>
<text class="ps" x="392.9" y="514.7">$527,000</text>
<path d="M209.9 528.0V549.8M205.4 549.8H214.4" stroke="#999" stroke-width="1.35" fill="none"/>
<circle cx="209.9" cy="549.8" r="2.0" fill="#fff" stroke="#999" stroke-width="1.1"/>
<rect x="209.8" y="528.5" width="51.7" height="11.6" fill="#fafafa" stroke="#999" stroke-width="1"/>
<text class="ps" x="235.3" y="537.9">$582,000</text>
<path d="M279.1 522.4V544.2M274.6 544.2H283.6" stroke="#999" stroke-width="1.35" fill="none"/>
<circle cx="279.1" cy="544.2" r="2.0" fill="#fff" stroke="#999" stroke-width="1.1"/>
<rect x="279.0" y="522.9" width="51.7" height="11.6" fill="#fafafa" stroke="#999" stroke-width="1"/>
<text class="ps" x="304.6" y="532.3">$595,000</text>
<path d="M302.3 598.6V620.4M297.8 620.4H306.8" stroke="#999" stroke-width="1.35" fill="none"/>
<circle cx="302.3" cy="620.4" r="2.0" fill="#fff" stroke="#999" stroke-width="1.1"/>
<rect x="302.2" y="599.1" width="51.7" height="11.6" fill="#fafafa" stroke="#999" stroke-width="1"/>
<text class="ps" x="327.8" y="608.5">$364,500</text>
<path d="M228.6 607.8V629.6M224.1 629.6H233.1" stroke="#999" stroke-width="1.35" fill="none"/>
<circle cx="228.6" cy="629.6" r="2.0" fill="#fff" stroke="#999" stroke-width="1.1"/>
<rect x="228.5" y="608.3" width="51.7" height="11.6" fill="#fafafa" stroke="#999" stroke-width="1"/>
<text class="ps" x="254.0" y="617.7">$991,500</text>
<path d="M217.9 657.2V679.0M213.4 679.0H222.4" stroke="#999" stroke-width="1.35" fill="none"/>
<circle cx="217.9" cy="679.0" r="2.0" fill="#fff" stroke="#999" stroke-width="1.1"/>
<rect x="217.8" y="657.7" width="51.7" height="11.6" fill="#fafafa" stroke="#999" stroke-width="1"/>
<text class="ps" x="243.3" y="667.1">$749,000</text>
<path d="M279.1 662.0V683.8M274.6 683.8H283.6" stroke="#999" stroke-width="1.35" fill="none"/>
<circle cx="279.1" cy="683.8" r="2.0" fill="#fff" stroke="#999" stroke-width="1.1"/>
<rect x="279.0" y="662.5" width="51.7" height="11.6" fill="#fafafa" stroke="#999" stroke-width="1"/>
<text class="ps" x="304.6" y="671.9">$627,500</text>
<path d="M315.8 681.3V703.1M311.3 703.1H320.3" stroke="#999" stroke-width="1.35" fill="none"/>
<circle cx="315.8" cy="703.1" r="2.0" fill="#fff" stroke="#999" stroke-width="1.1"/>
<rect x="315.7" y="681.8" width="51.7" height="11.6" fill="#fafafa" stroke="#999" stroke-width="1"/>
<text class="ps" x="341.2" y="691.2">$1,165,000</text>
<path d="M215.7 707.6V729.4M211.2 729.4H220.2" stroke="#999" stroke-width="1.35" fill="none"/>
<circle cx="215.7" cy="729.4" r="2.0" fill="#fff" stroke="#999" stroke-width="1.1"/>
<rect x="215.6" y="708.1" width="51.7" height="11.6" fill="#fafafa" stroke="#999" stroke-width="1"/>
<text class="ps" x="241.1" y="717.5">$725,000</text>
<path d="M205.6 785.1V806.9M201.1 806.9H210.1" stroke="#999" stroke-width="1.35" fill="none"/>
<circle cx="205.6" cy="806.9" r="2.0" fill="#fff" stroke="#999" stroke-width="1.1"/>
<rect x="205.5" y="785.6" width="51.7" height="11.6" fill="#fafafa" stroke="#999" stroke-width="1"/>
<text class="ps" x="231.0" y="795.0">$435,000</text>
<path d="M296.9 785.9V807.7M292.4 807.7H301.4" stroke="#999" stroke-width="1.35" fill="none"/>
<circle cx="296.9" cy="807.7" r="2.0" fill="#fff" stroke="#999" stroke-width="1.1"/>
<rect x="296.8" y="786.4" width="51.7" height="11.6" fill="#fafafa" stroke="#999" stroke-width="1"/>
<text class="ps" x="322.4" y="795.8">$1,800,000</text>
<path d="M335.0 802.4V824.2M330.5 824.2H339.5" stroke="#999" stroke-width="1.35" fill="none"/>
<circle cx="335.0" cy="824.2" r="2.0" fill="#fff" stroke="#999" stroke-width="1.1"/>
<rect x="334.9" y="802.9" width="51.7" height="11.6" fill="#fafafa" stroke="#999" stroke-width="1"/>
<text class="ps" x="360.4" y="812.3">$680,000</text>
<path d="M340.0 739.2V761.0M335.5 761.0H344.5" stroke="#999" stroke-width="1.35" fill="none"/>
<circle cx="340.0" cy="761.0" r="2.0" fill="#fff" stroke="#999" stroke-width="1.1"/>
<rect x="339.9" y="739.7" width="51.7" height="11.6" fill="#fafafa" stroke="#999" stroke-width="1"/>
<text class="ps" x="365.4" y="749.1">$ 690,000</text>
<path d="M376.1 694.2V716.0M371.6 716.0H380.6" stroke="#999" stroke-width="1.35" fill="none"/>
<circle cx="376.1" cy="716.0" r="2.0" fill="#fff" stroke="#999" stroke-width="1.1"/>
<rect x="376.0" y="694.7" width="51.7" height="11.6" fill="#fafafa" stroke="#999" stroke-width="1"/>
<text class="ps" x="401.6" y="704.1">$1,497,000</text>
<path d="M414.8 777.9V799.7M410.3 799.7H419.3" stroke="#999" stroke-width="1.35" fill="none"/>
<circle cx="414.8" cy="799.7" r="2.0" fill="#fff" stroke="#999" stroke-width="1.1"/>
<rect x="414.7" y="778.4" width="51.7" height="11.6" fill="#fafafa" stroke="#999" stroke-width="1"/>
<text class="ps" x="440.2" y="787.8">$1,030,000</text>
<path d="M385.1 822.6V844.4M380.6 844.4H389.6" stroke="#999" stroke-width="1.35" fill="none"/>
<circle cx="385.1" cy="844.4" r="2.0" fill="#fff" stroke="#999" stroke-width="1.1"/>
<rect x="385.0" y="823.1" width="51.7" height="11.6" fill="#fafafa" stroke="#999" stroke-width="1"/>
<text class="ps" x="410.6" y="832.5">$640,000</text>
<path d="M338.2 868.2V890.0M333.7 890.0H342.7" stroke="#999" stroke-width="1.35" fill="none"/>
<circle cx="338.2" cy="890.0" r="2.0" fill="#fff" stroke="#999" stroke-width="1.1"/>
<rect x="338.1" y="868.7" width="51.7" height="11.6" fill="#fafafa" stroke="#999" stroke-width="1"/>
<text class="ps" x="363.7" y="878.1">$810,500</text>
<path d="M277.9 846.2V868.0M273.4 868.0H282.4" stroke="#999" stroke-width="1.35" fill="none"/>
<circle cx="277.9" cy="868.0" r="2.0" fill="#fff" stroke="#999" stroke-width="1.1"/>
<rect x="277.8" y="846.7" width="51.7" height="11.6" fill="#fafafa" stroke="#999" stroke-width="1"/>
<text class="ps" x="303.4" y="856.1">$390,000</text>
<path d="M417.4 646.4V668.2M412.9 668.2H421.9" stroke="#999" stroke-width="1.35" fill="none"/>
<circle cx="417.4" cy="668.2" r="2.0" fill="#fff" stroke="#999" stroke-width="1.1"/>
<rect x="417.3" y="646.9" width="51.7" height="11.6" fill="#fafafa" stroke="#999" stroke-width="1"/>
<text class="ps" x="442.9" y="656.3">$618,000</text>
<path d="M354.2 621.4V643.2M349.7 643.2H358.7" stroke="#999" stroke-width="1.35" fill="none"/>
<circle cx="354.2" cy="643.2" r="2.0" fill="#fff" stroke="#999" stroke-width="1.1"/>
<rect x="354.1" y="621.9" width="51.7" height="11.6" fill="#fafafa" stroke="#999" stroke-width="1"/>
<text class="ps" x="379.7" y="631.3">$478,000</text>
<path d="M377.8 562.0V583.8M373.3 583.8H382.3" stroke="#999" stroke-width="1.35" fill="none"/>
<circle cx="377.8" cy="583.8" r="2.0" fill="#fff" stroke="#999" stroke-width="1.1"/>
<rect x="377.7" y="562.5" width="51.7" height="11.6" fill="#fafafa" stroke="#999" stroke-width="1"/>
<text class="ps" x="403.2" y="571.9">$495,000</text>
<path d="M469.8 598.6V620.4M465.3 620.4H474.3" stroke="#999" stroke-width="1.35" fill="none"/>
<circle cx="469.8" cy="620.4" r="2.0" fill="#fff" stroke="#999" stroke-width="1.1"/>
<rect x="469.7" y="599.1" width="51.7" height="11.6" fill="#fafafa" stroke="#999" stroke-width="1"/>
<text class="ps" x="495.2" y="608.5">$1,300,000</text>
<path d="M543.9 617.3V639.1M539.4 639.1H548.4" stroke="#999" stroke-width="1.35" fill="none"/>
<circle cx="543.9" cy="639.1" r="2.0" fill="#fff" stroke="#999" stroke-width="1.1"/>
<rect x="543.8" y="617.8" width="51.7" height="11.6" fill="#fafafa" stroke="#999" stroke-width="1"/>
<text class="ps" x="569.4" y="627.2">$815,000</text>
<path d="M573.7 676.3V698.1M569.2 698.1H578.2" stroke="#999" stroke-width="1.35" fill="none"/>
<circle cx="573.7" cy="698.1" r="2.0" fill="#fff" stroke="#999" stroke-width="1.1"/>
<rect x="573.6" y="676.8" width="51.7" height="11.6" fill="#fafafa" stroke="#999" stroke-width="1"/>
<text class="ps" x="599.2" y="686.2">$433,000</text>
<path d="M544.8 727.1V748.9M540.3 748.9H549.3" stroke="#999" stroke-width="1.35" fill="none"/>
<circle cx="544.8" cy="748.9" r="2.0" fill="#fff" stroke="#999" stroke-width="1.1"/>
<rect x="544.7" y="727.6" width="51.7" height="11.6" fill="#fafafa" stroke="#999" stroke-width="1"/>
<text class="ps" x="570.3" y="737.0">$1,835,000</text>
<path d="M478.6 760.8V782.6M474.1 782.6H483.1" stroke="#999" stroke-width="1.35" fill="none"/>
<circle cx="478.6" cy="782.6" r="2.0" fill="#fff" stroke="#999" stroke-width="1.1"/>
<rect x="478.5" y="761.3" width="51.7" height="11.6" fill="#fafafa" stroke="#999" stroke-width="1"/>
<text class="ps" x="504.1" y="770.7">$930,000</text>
</g>
<g>
<text class="lg" x="639.4" y="855.3" font-size="14px" textLength="222.8" lengthAdjust="spacingAndGlyphs">2014 Median Sales Price for Single</text>
<text class="lg" x="705.2" y="874.2" font-size="14px" textLength="91.3" lengthAdjust="spacingAndGlyphs">Family Homes</text>
<rect x="700.9" y="882.8" width="24.3" height="19.1" fill="#C0552A" stroke="#fff" stroke-opacity=".9" stroke-width="1.3"/>
<text class="lg" x="604.6" y="894.0" textLength="89.0" lengthAdjust="spacingAndGlyphs">Over $1million</text>
<rect x="700.9" y="908.5" width="24.3" height="19.1" fill="#EE7558" stroke="#fff" stroke-opacity=".9" stroke-width="1.3"/>
<text class="lg" x="571.8" y="920.5" textLength="121.8" lengthAdjust="spacingAndGlyphs">$800,000 - $1million</text>
<rect x="700.9" y="934.4" width="24.3" height="19.1" fill="#F39662" stroke="#fff" stroke-opacity=".9" stroke-width="1.3"/>
<text class="lg" x="573.1" y="947.5" textLength="120.5" lengthAdjust="spacingAndGlyphs">$600,000 - $800,000</text>
<rect x="700.9" y="960.7" width="24.3" height="19.1" fill="#F6CD8F" stroke="#fff" stroke-opacity=".9" stroke-width="1.3"/>
<text class="lg" x="573.1" y="973.8" textLength="120.5" lengthAdjust="spacingAndGlyphs">$500,000 - $600,000</text>
<rect x="869.4" y="882.9" width="24.7" height="19.3" fill="#D0E8C8" stroke="#fff" stroke-opacity=".9" stroke-width="1.3"/>
<text class="lg" x="741.8" y="896.9" textLength="120.8" lengthAdjust="spacingAndGlyphs">$400,000 - $500,000</text>
<rect x="869.4" y="908.1" width="24.7" height="19.3" fill="#88C5A0" stroke="#fff" stroke-opacity=".9" stroke-width="1.3"/>
<text class="lg" x="741.8" y="920.5" textLength="120.8" lengthAdjust="spacingAndGlyphs">$300,000 - $400,000</text>
<rect x="869.4" y="932.9" width="24.7" height="19.3" fill="#68B086" stroke="#fff" stroke-opacity=".9" stroke-width="1.3"/>
<text class="lg" x="741.8" y="947.5" textLength="120.8" lengthAdjust="spacingAndGlyphs">$200,000 - $300,000</text>
<rect x="869.4" y="957.4" width="24.7" height="19.3" fill="#4E8E69" stroke="#fff" stroke-opacity=".9" stroke-width="1.3"/>
<text class="lg" x="764.0" y="971.3" textLength="95.3" lengthAdjust="spacingAndGlyphs">Under $200,000</text>
</g>
</svg></body></html>
